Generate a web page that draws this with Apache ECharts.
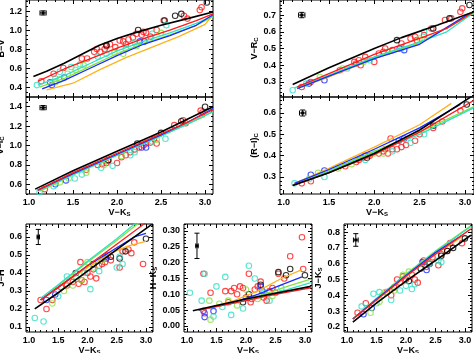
<!DOCTYPE html>
<html>
<head>
<meta charset="utf-8">
<script src="https://cdn.jsdelivr.net/npm/echarts@6.0.0/dist/echarts.min.js"></script>
<style>html,body{margin:0;padding:0;background:#fff}#main{width:474px;height:353px}</style>
</head>
<body>
<div id="main"></div>
<script>
// tick labels
var vkTicks = [1.0, 1.5, 2.0, 2.5, 3.0];
var bvTicks = [0.4, 0.6, 0.8, 1.0, 1.2];
var viTicks = [0.6, 0.8, 1.0, 1.2, 1.4];
var vrTicks = [0.3, 0.4, 0.5, 0.6, 0.7];
var riTicks = [0.3, 0.4, 0.5, 0.6];
var jhTicks = [0.1, 0.2, 0.3, 0.4, 0.5, 0.6];
var hkTicks = [0.00, 0.05, 0.10, 0.15, 0.20, 0.25, 0.30];
var jkTicks = [0.2, 0.3, 0.4, 0.5, 0.6, 0.7, 0.8];

// B-V
var bvRed = [[1.14,0.46],[1.28,0.54],[1.39,0.6],[1.6,0.7],[1.66,0.7],[1.74,0.77],[1.77,0.8],[1.81,0.77],[1.86,0.8],[1.88,0.83],[1.92,0.85],[1.98,0.82],[2.03,0.89],[2.07,0.88],[2.1,0.85],[2.13,0.9],[2.18,0.92],[2.22,0.96],[2.28,0.95],[2.3,0.98],[2.33,0.97],[2.38,0.93],[2.45,1.0],[2.53,1.1],[2.76,1.15],[2.8,1.12],[2.94,1.21],[2.96,1.24]];
var bvBlack = [[1.88,0.84],[2.24,1.0],[2.54,1.1],[2.66,1.15],[2.73,1.17],[3.02,1.29]];
var bvBlue = [[1.24,0.45],[1.26,0.42],[1.4,0.5],[2.26,0.88],[2.31,0.88]];
var bvCyan = [[1.09,0.42],[1.3,0.49],[1.35,0.56],[1.48,0.61],[1.58,0.64],[1.78,0.72],[1.88,0.75],[2.1,0.8],[2.2,0.87],[2.4,0.96],[2.56,1.05]];
var bvGreen = [[1.3,0.45],[1.35,0.48],[1.44,0.54],[1.53,0.58],[1.62,0.63],[1.97,0.76],[2.07,0.75],[2.22,0.83],[2.5,0.97]];
var bvModBlack = [[1.05,0.51],[1.2,0.565],[1.4,0.65],[1.6,0.745],[1.8,0.84],[2.0,0.91],[2.2,0.97],[2.5,1.05],[2.8,1.12],[3.09,1.19]];
var bvModRed = [[1.1,0.46],[1.4,0.59],[1.7,0.7],[2.0,0.81],[2.3,0.91],[2.6,1.0],[2.9,1.1],[3.09,1.17]];
var bvModBlue = [[1.15,0.38],[1.4,0.47],[1.7,0.6],[2.0,0.73],[2.3,0.85],[2.6,0.94],[2.9,1.05],[3.09,1.16]];
var bvModCyan = [[1.1,0.42],[1.4,0.52],[1.7,0.65],[2.0,0.78],[2.3,0.88],[2.6,0.97],[2.9,1.07],[3.09,1.15]];
var bvModGreen = [[1.12,0.4],[1.4,0.49],[1.7,0.62],[2.0,0.75],[2.3,0.86],[2.6,0.95],[2.9,1.05],[3.09,1.14]];
var bvModOrange = [[1.2,0.37],[1.5,0.44],[1.8,0.58],[2.1,0.71],[2.4,0.82],[2.7,0.93],[3.0,1.06],[3.09,1.16]];
var bvErr = [[1.16,1.18,0.035,0.022]];

// V-Ic
var viRed = [[1.18,0.55],[1.65,0.75],[1.78,0.8],[1.83,0.81],[1.88,0.82],[1.9,0.84],[2.0,0.82],[2.05,0.88],[2.1,0.9],[2.15,0.93],[2.2,0.96],[2.25,0.98],[2.3,1.0],[2.33,1.02],[2.38,1.03],[2.42,1.07],[2.45,1.02],[2.65,1.21],[2.75,1.26],[2.78,1.23],[2.95,1.36],[2.97,1.34]];
var viBlack = [[1.9,0.85],[2.23,1.02],[2.5,1.13],[2.73,1.25],[3.0,1.4]];
var viBlue = [[1.3,0.6],[1.42,0.64],[2.28,0.98],[2.33,0.98]];
var viCyan = [[1.12,0.52],[1.28,0.58],[1.52,0.66],[1.6,0.7],[1.82,0.77],[1.95,0.79],[2.15,0.9],[2.2,0.93],[2.4,1.04],[2.55,1.07]];
var viGreen = [[1.35,0.62],[1.45,0.66],[1.65,0.72],[1.85,0.8],[2.05,0.89],[2.45,1.06]];
var viModBlack = [[1.07,0.55],[1.5,0.74],[2.0,0.94],[2.5,1.14],[3.09,1.4]];
var viModRed = [[1.1,0.54],[1.5,0.72],[2.0,0.92],[2.5,1.12],[2.8,1.24],[3.09,1.37]];
var viModBlue = [[1.1,0.54],[1.5,0.71],[2.0,0.91],[2.5,1.11],[2.8,1.24],[3.09,1.38]];
var viModCyan = [[1.1,0.53],[1.5,0.7],[2.0,0.9],[2.5,1.1],[2.8,1.22],[3.09,1.35]];
var viModGreen = [[1.12,0.53],[1.5,0.7],[2.0,0.9],[2.5,1.1],[2.8,1.22],[3.09,1.35]];
var viModOrange = [[1.15,0.54],[1.5,0.7],[2.0,0.9],[2.5,1.1],[2.8,1.23],[3.0,1.3]];
var viErr = [[1.16,1.39,0.035,0.022]];

// V-Rc
var vrRed = [[1.2,0.27],[1.3,0.3],[1.62,0.37],[1.78,0.42],[1.8,0.41],[1.83,0.43],[1.85,0.4],[1.9,0.45],[2.0,0.42],[2.05,0.47],[2.1,0.48],[2.12,0.5],[2.2,0.49],[2.3,0.53],[2.4,0.56],[2.45,0.57],[2.47,0.55],[2.55,0.58],[2.63,0.62],[2.78,0.67],[2.85,0.68],[2.95,0.72],[2.97,0.74]];
var vrBlack = [[2.25,0.55],[2.65,0.62],[2.83,0.68],[3.05,0.76]];
var vrBlue = [[1.28,0.29],[1.45,0.31],[2.28,0.5],[2.33,0.49]];
var vrCyan = [[1.1,0.25],[1.25,0.29],[1.7,0.38],[1.95,0.43],[2.3,0.5],[2.55,0.6]];
var vrGreen = [[1.4,0.33],[1.65,0.38],[1.88,0.42],[2.15,0.48],[2.5,0.56]];
var vrModBlack = [[1.1,0.285],[1.5,0.385],[2.0,0.5],[2.3,0.565],[2.7,0.64],[3.1,0.72]];
var vrModRed = [[1.15,0.27],[1.5,0.35],[2.0,0.465],[2.5,0.56],[2.8,0.62],[3.1,0.72]];
var vrModBlue = [[1.15,0.26],[1.5,0.335],[2.0,0.44],[2.5,0.525],[3.05,0.71]];
var vrModCyan = [[1.12,0.265],[1.5,0.34],[2.0,0.45],[2.5,0.54],[2.8,0.6],[3.1,0.715]];
var vrModGreen = [[1.15,0.265],[1.5,0.34],[2.0,0.445],[2.5,0.535],[3.1,0.71]];
var vrModOrange = [[1.2,0.27],[1.5,0.33],[2.0,0.44],[2.5,0.53],[3.0,0.69]];
var vrErr = [[1.2,0.7,0.035,0.016]];

// (R-I)c
var riRed = [[1.2,0.27],[1.3,0.28],[1.68,0.35],[1.8,0.37],[1.83,0.38],[1.87,0.39],[1.9,0.4],[1.95,0.4],[2.05,0.41],[2.1,0.42],[2.12,0.43],[2.15,0.41],[2.18,0.48],[2.2,0.43],[2.25,0.43],[2.3,0.44],[2.35,0.45],[2.45,0.47],[2.5,0.5],[2.65,0.53],[2.75,0.56],[2.95,0.61]];
var riBlack = [[1.92,0.39],[2.65,0.54],[3.02,0.64]];
var riBlue = [[1.3,0.31],[1.45,0.33],[2.27,0.47],[2.33,0.48]];
var riCyan = [[1.12,0.27],[1.28,0.29],[1.45,0.3],[1.9,0.38],[2.2,0.42],[2.4,0.46],[2.55,0.5]];
var riGreen = [[1.38,0.32],[1.6,0.34],[1.75,0.36],[2.0,0.41],[2.1,0.41]];
var riModBlack = [[1.1,0.26],[1.5,0.32],[2.0,0.41],[2.5,0.52],[3.1,0.685]];
var riModRed = [[1.1,0.26],[1.5,0.32],[2.0,0.405],[2.5,0.51],[3.1,0.66]];
var riModBlue = [[1.12,0.27],[1.5,0.335],[2.0,0.43],[2.5,0.53],[2.95,0.64]];
var riModCyan = [[1.12,0.265],[1.5,0.325],[2.0,0.415],[2.5,0.5],[3.1,0.625]];
var riModGreen = [[1.12,0.265],[1.5,0.33],[2.0,0.42],[2.5,0.51],[3.1,0.63]];
var riModOrange = [[1.12,0.27],[1.5,0.34],[2.0,0.44],[2.5,0.545],[2.85,0.645]];
var riErr = [[1.21,0.6,0.035,0.014]];

// J-H
var jhRed = [[1.2,0.25],[1.3,0.2],[1.4,0.25],[1.55,0.32],[1.65,0.33],[1.75,0.35],[1.85,0.34],[1.88,0.46],[1.9,0.36],[1.95,0.35],[2.0,0.4],[2.05,0.38],[2.1,0.42],[2.15,0.37],[2.2,0.44],[2.25,0.45],[2.3,0.46],[2.35,0.5],[2.4,0.47],[2.55,0.43],[2.6,0.52],[2.7,0.53],[2.75,0.51],[2.8,0.57],[2.95,0.45]];
var jhBlack = [[1.8,0.4],[2.1,0.45],[2.4,0.49],[2.55,0.48],[2.65,0.52],[3.0,0.59]];
var jhBlue = [[1.3,0.25],[1.45,0.28],[2.3,0.49],[2.32,0.48]];
var jhCyan = [[1.1,0.15],[1.25,0.13],[1.5,0.27],[1.65,0.38],[1.8,0.38],[1.95,0.4],[2.05,0.31],[2.2,0.41],[2.5,0.43],[2.55,0.49],[2.6,0.45]];
var jhGreen = [[1.4,0.23],[1.6,0.3],[1.75,0.33],[1.9,0.36],[2.0,0.46],[2.1,0.43],[2.25,0.47]];
var jhModBlack = [[1.1,0.2],[1.5,0.29],[2.0,0.41],[2.5,0.53],[3.1,0.67]];
var jhModRed = [[1.2,0.25],[1.5,0.32],[2.0,0.44],[2.5,0.56],[3.0,0.68]];
var jhModBlue = [[1.2,0.25],[1.5,0.32],[2.0,0.44],[2.5,0.54],[2.8,0.6],[3.0,0.62]];
var jhModCyan = [[1.2,0.26],[1.5,0.335],[2.0,0.465],[2.5,0.59],[2.8,0.67],[3.1,0.74]];
var jhModGreen = [[1.2,0.25],[1.5,0.33],[2.0,0.46],[2.5,0.58],[2.85,0.67],[3.1,0.73]];
var jhModOrange = [[1.2,0.25],[1.5,0.32],[2.0,0.43],[2.4,0.51],[2.7,0.55],[3.0,0.575]];
var jhErr = [[1.16,0.6,0.02,0.042]];

// H-Ks
var hkRed = [[1.28,0.165],[1.3,0.04],[1.4,0.105],[1.65,0.11],[1.7,0.075],[1.75,0.11],[1.8,0.12],[1.85,0.1],[1.9,0.125],[1.95,0.12],[2.0,0.09],[2.05,0.165],[2.08,0.075],[2.1,0.085],[2.15,0.115],[2.2,0.125],[2.25,0.14],[2.3,0.09],[2.35,0.08],[2.4,0.11],[2.45,0.12],[2.5,0.105],[2.55,0.165],[2.65,0.15],[2.75,0.22],[2.95,0.28],[2.97,0.18]];
var hkBlack = [[1.95,0.075],[2.05,0.1],[2.25,0.13],[2.55,0.17],[2.68,0.16],[2.75,0.18],[3.0,0.16]];
var hkBlue = [[1.28,0.048],[1.3,0.028],[1.45,0.047],[2.25,0.125],[2.28,0.11]];
var hkCyan = [[1.05,0.105],[1.25,0.08],[1.3,0.165],[1.45,0.03],[1.5,0.125],[1.6,0.06],[1.65,0.155],[1.75,0.035],[1.95,0.055],[2.05,0.19],[2.15,0.15],[2.3,0.105],[2.4,0.08],[2.6,0.12]];
var hkGreen = [[1.38,0.08],[1.4,0.02],[1.55,0.07],[1.7,0.08],[1.85,0.065],[2.0,0.115],[2.2,0.085],[2.45,0.095]];
var hkModBlack = [[1.1,0.048],[2.0,0.085],[3.1,0.125]];
var hkModRed = [[1.2,0.05],[2.0,0.08],[2.5,0.1],[3.1,0.12]];
var hkModBlue = [[1.2,0.05],[1.8,0.075],[2.2,0.1],[2.6,0.13],[2.95,0.155]];
var hkModCyan = [[1.2,0.05],[1.8,0.072],[2.3,0.095],[2.7,0.115],[3.1,0.137]];
var hkModGreen = [[1.2,0.05],[1.8,0.075],[2.3,0.1],[2.7,0.125],[3.1,0.148]];
var hkModOrange = [[1.2,0.05],[1.8,0.08],[2.2,0.11],[2.6,0.15],[2.95,0.178]];
var hkErr = [[1.17,0.253,0.02,0.04]];

// J-Ks
var jkRed = [[1.18,0.29],[1.32,0.35],[1.68,0.42],[1.75,0.4],[1.8,0.45],[1.85,0.5],[1.9,0.48],[1.95,0.52],[2.0,0.5],[2.1,0.53],[2.15,0.5],[2.2,0.48],[2.3,0.62],[2.35,0.58],[2.4,0.6],[2.45,0.64],[2.55,0.59],[2.6,0.66],[2.7,0.68],[2.75,0.73],[2.95,0.73]];
var jkBlack = [[2.05,0.49],[2.25,0.57],[2.4,0.6],[2.6,0.65],[2.7,0.68],[2.8,0.7],[3.0,0.76]];
var jkBlue = [[1.28,0.28],[1.42,0.32],[2.28,0.61],[2.35,0.56]];
var jkCyan = [[1.25,0.33],[1.45,0.41],[1.5,0.35],[1.55,0.42],[1.6,0.4],[1.75,0.37],[1.9,0.43],[2.0,0.46],[2.1,0.44],[2.15,0.47],[2.4,0.6],[2.55,0.62],[2.6,0.61]];
var jkGreen = [[1.4,0.29],[1.55,0.36],[1.65,0.42],[1.8,0.43],[1.95,0.53],[2.05,0.55]];
var jkModBlack = [[1.1,0.23],[1.5,0.35],[2.0,0.49],[2.5,0.62],[3.1,0.78]];
var jkModRed = [[1.1,0.25],[1.5,0.37],[2.0,0.52],[2.5,0.66],[3.1,0.82]];
var jkModBlue = [[1.1,0.25],[1.5,0.375],[2.0,0.525],[2.5,0.67],[2.95,0.78]];
var jkModCyan = [[1.1,0.25],[1.5,0.38],[2.0,0.53],[2.5,0.675],[3.1,0.835]];
var jkModGreen = [[1.1,0.25],[1.5,0.38],[2.0,0.535],[2.5,0.68],[3.1,0.84]];
var jkModOrange = [[1.1,0.25],[1.5,0.375],[2.0,0.52],[2.5,0.66],[2.95,0.77]];
var jkErr = [[1.15,0.75,0.04,0.04]];

var ptColors = ['#ff1a1a', '#000000', '#1a2cff', '#2ee0c4', '#86e23c'];
// model lines drawn orange, green, cyan, blue, red, black (black on top)
var modColors = ['#ffb21a', '#86e23c', '#2ee0c4', '#1a2cff', '#ff1a1a', '#000000'];
var font = 'Liberation Sans';

var panels = [
  {left:26, top:0, width:187, height:97, x:[0.966,3.09], y:[0.295,1.316], ticks:bvTicks, minor:0.05, dec:1, yName:'B−V', yGap:13, xName:false,
   pts:[bvRed,bvBlack,bvBlue,bvCyan,bvGreen], mods:[bvModOrange,bvModGreen,bvModCyan,bvModBlue,bvModRed,bvModBlack], err:bvErr},
  {left:26, top:97, width:187, height:97, x:[0.966,3.09], y:[0.5,1.5], ticks:viTicks, minor:0.05, dec:1, yName:'V−I{s|C}', yGap:13, xName:true, xGap:12,
   pts:[viRed,viBlack,viBlue,viCyan,viGreen], mods:[viModOrange,viModGreen,viModCyan,viModBlue,viModRed,viModBlack], err:viErr},
  {left:280, top:0, width:194, height:97, x:[0.96,3.1], y:[0.21,0.79], ticks:vrTicks, minor:0.02, dec:1, yName:'V−R{s|C}', yGap:13, xName:false,
   pts:[vrRed,vrBlack,vrBlue,vrCyan,vrGreen], mods:[vrModOrange,vrModGreen,vrModCyan,vrModBlue,vrModRed,vrModBlack], err:vrErr},
  {left:280, top:97, width:194, height:97, x:[0.96,3.1], y:[0.22,0.675], ticks:riTicks, minor:0.02, dec:1, yName:'(R−I){s|C}', yGap:13, xName:true, xGap:12,
   pts:[riRed,riBlack,riBlue,riCyan,riGreen], mods:[riModOrange,riModGreen,riModCyan,riModBlue,riModRed,riModBlack], err:riErr},
  {left:26, top:224, width:127, height:108, x:[0.95,3.12], y:[0.072,0.672], ticks:jhTicks, minor:0.02, dec:1, yName:'J−H', yGap:14, xName:true, xGap:9,
   pts:[jhRed,jhBlack,jhBlue,jhCyan,jhGreen], mods:[jhModOrange,jhModGreen,jhModCyan,jhModBlue,jhModRed,jhModBlack], err:jhErr},
  {left:184, top:224, width:128, height:108, x:[0.95,3.12], y:[-0.019,0.322], ticks:hkTicks, minor:0.01, dec:2, yName:'H−K{s|S}', yGap:16, xName:true, xGap:9,
   pts:[hkRed,hkBlack,hkBlue,hkCyan,hkGreen], mods:[hkModOrange,hkModGreen,hkModCyan,hkModBlue,hkModRed,hkModBlack], err:hkErr},
  {left:344, top:224, width:128, height:108, x:[0.95,3.12], y:[0.168,0.851], ticks:jkTicks, minor:0.02, dec:1, yName:'J−K{s|S}', yGap:14, xName:true, xGap:9,
   pts:[jkRed,jkBlack,jkBlue,jkCyan,jkGreen], mods:[jkModOrange,jkModGreen,jkModCyan,jkModBlue,jkModRed,jkModBlack], err:jkErr}
];

function steps(lo, hi, st) {
  var out = [];
  for (var v = Math.ceil(lo / st - 1e-9) * st; v <= hi + 1e-9; v += st) out.push(+v.toFixed(4));
  return out;
}
function minorOf(lo, hi, st, majors) {
  return steps(lo, hi, st).filter(function (v) {
    return majors.every(function (m) { return Math.abs(m - v) > 1e-6; });
  });
}

var nameStyle = {color:'#000', fontSize:9, fontWeight:'bold', fontFamily:font,
  rich:{s:{fontSize:6, fontWeight:'bold', fontFamily:font, padding:[4,0,0,0]}}};
var labStyle = {color:'#000', fontSize:9, fontWeight:'bold', fontFamily:font};

var grids = [], xAxes = [], yAxes = [], series = [];

panels.forEach(function (p, gi) {
  grids.push({left:p.left, top:p.top, width:p.width, height:p.height, show:true,
    borderColor:'#000', borderWidth:1, backgroundColor:'transparent', outerBoundsMode:'none'});
  var xMinor = minorOf(p.x[0], p.x[1], 0.1, vkTicks);
  var yMinor = minorOf(p.y[0], p.y[1], p.minor, p.ticks);
  ['bottom', 'top'].forEach(function (pos) {
    [0, 1].forEach(function (k) {
      var lab = pos === 'bottom' && k === 0 && p.xName;
      xAxes.push({type:'value', gridIndex:gi, position:pos, min:p.x[0], max:p.x[1],
        axisLine:{show:false, onZero:false}, splitLine:{show:false},
        axisTick:{show:true, inside:true, length:k ? 2 : 4, customValues:k ? xMinor : vkTicks, lineStyle:{color:'#000', width:1}},
        axisLabel:Object.assign({show:lab, customValues:vkTicks, margin:4, formatter:function (v) { return v.toFixed(1); }}, labStyle),
        name:lab ? 'V−K{s|S}' : '', nameLocation:'middle', nameGap:p.xGap || 10, nameTextStyle:nameStyle});
    });
  });
  ['left', 'right'].forEach(function (pos) {
    [0, 1].forEach(function (k) {
      var lab = pos === 'left' && k === 0;
      yAxes.push({type:'value', gridIndex:gi, position:pos, min:p.y[0], max:p.y[1],
        axisLine:{show:false, onZero:false}, splitLine:{show:false},
        axisTick:{show:true, inside:true, length:k ? 2 : 4, customValues:k ? yMinor : p.ticks, lineStyle:{color:'#000', width:1}},
        axisLabel:Object.assign({show:lab, customValues:p.ticks, margin:4, formatter:function (v) { return v.toFixed(p.dec); }}, labStyle),
        name:lab ? p.yName : '', nameLocation:'middle', nameRotate:90, nameGap:p.yGap, nameTextStyle:nameStyle});
    });
  });
  var ax = gi * 4;
  p.mods.forEach(function (d, i) {
    series.push({type:'line', xAxisIndex:ax, yAxisIndex:ax, data:d, showSymbol:false, smooth:false,
      lineStyle:{color:modColors[i], width:i === 5 ? 1.6 : 1.3}, silent:true});
  });
  p.pts.forEach(function (d, i) {
    series.push({type:'scatter', xAxisIndex:ax, yAxisIndex:ax, data:d, symbol:'circle', symbolSize:5.5,
      itemStyle:{color:'rgba(0,0,0,0)', borderColor:ptColors[i], borderWidth:1.1}, silent:true});
  });
  series.push({type:'custom', xAxisIndex:ax, yAxisIndex:ax, data:p.err, silent:true,
    renderItem:function (params, api) {
      var x = api.value(0), y = api.value(1), dx = api.value(2), dy = api.value(3);
      var c = api.coord([x, y]), l = api.coord([x - dx, y]), r = api.coord([x + dx, y]);
      var t = api.coord([x, y + dy]), b = api.coord([x, y - dy]);
      var cap = 2.5, st = {stroke:'#000', lineWidth:1};
      function seg(x1, y1, x2, y2) { return {type:'line', shape:{x1:x1, y1:y1, x2:x2, y2:y2}, style:st}; }
      return {type:'group', children:[
        seg(t[0], t[1], b[0], b[1]), seg(l[0], l[1], r[0], r[1]),
        seg(t[0] - cap, t[1], t[0] + cap, t[1]), seg(b[0] - cap, b[1], b[0] + cap, b[1]),
        seg(l[0], l[1] - cap, l[0], l[1] + cap), seg(r[0], r[1] - cap, r[0], r[1] + cap),
        {type:'rect', shape:{x:c[0] - 1.5, y:c[1] - 1.5, width:3, height:3}, style:{fill:'#000'}}
      ]};
    }});
});

var chart = echarts.init(document.getElementById('main'));
chart.setOption({
  animation:false,
  backgroundColor:'#fff',
  grid:grids,
  xAxis:xAxes,
  yAxis:yAxes,
  series:series
});
</script>
</body>
</html>
